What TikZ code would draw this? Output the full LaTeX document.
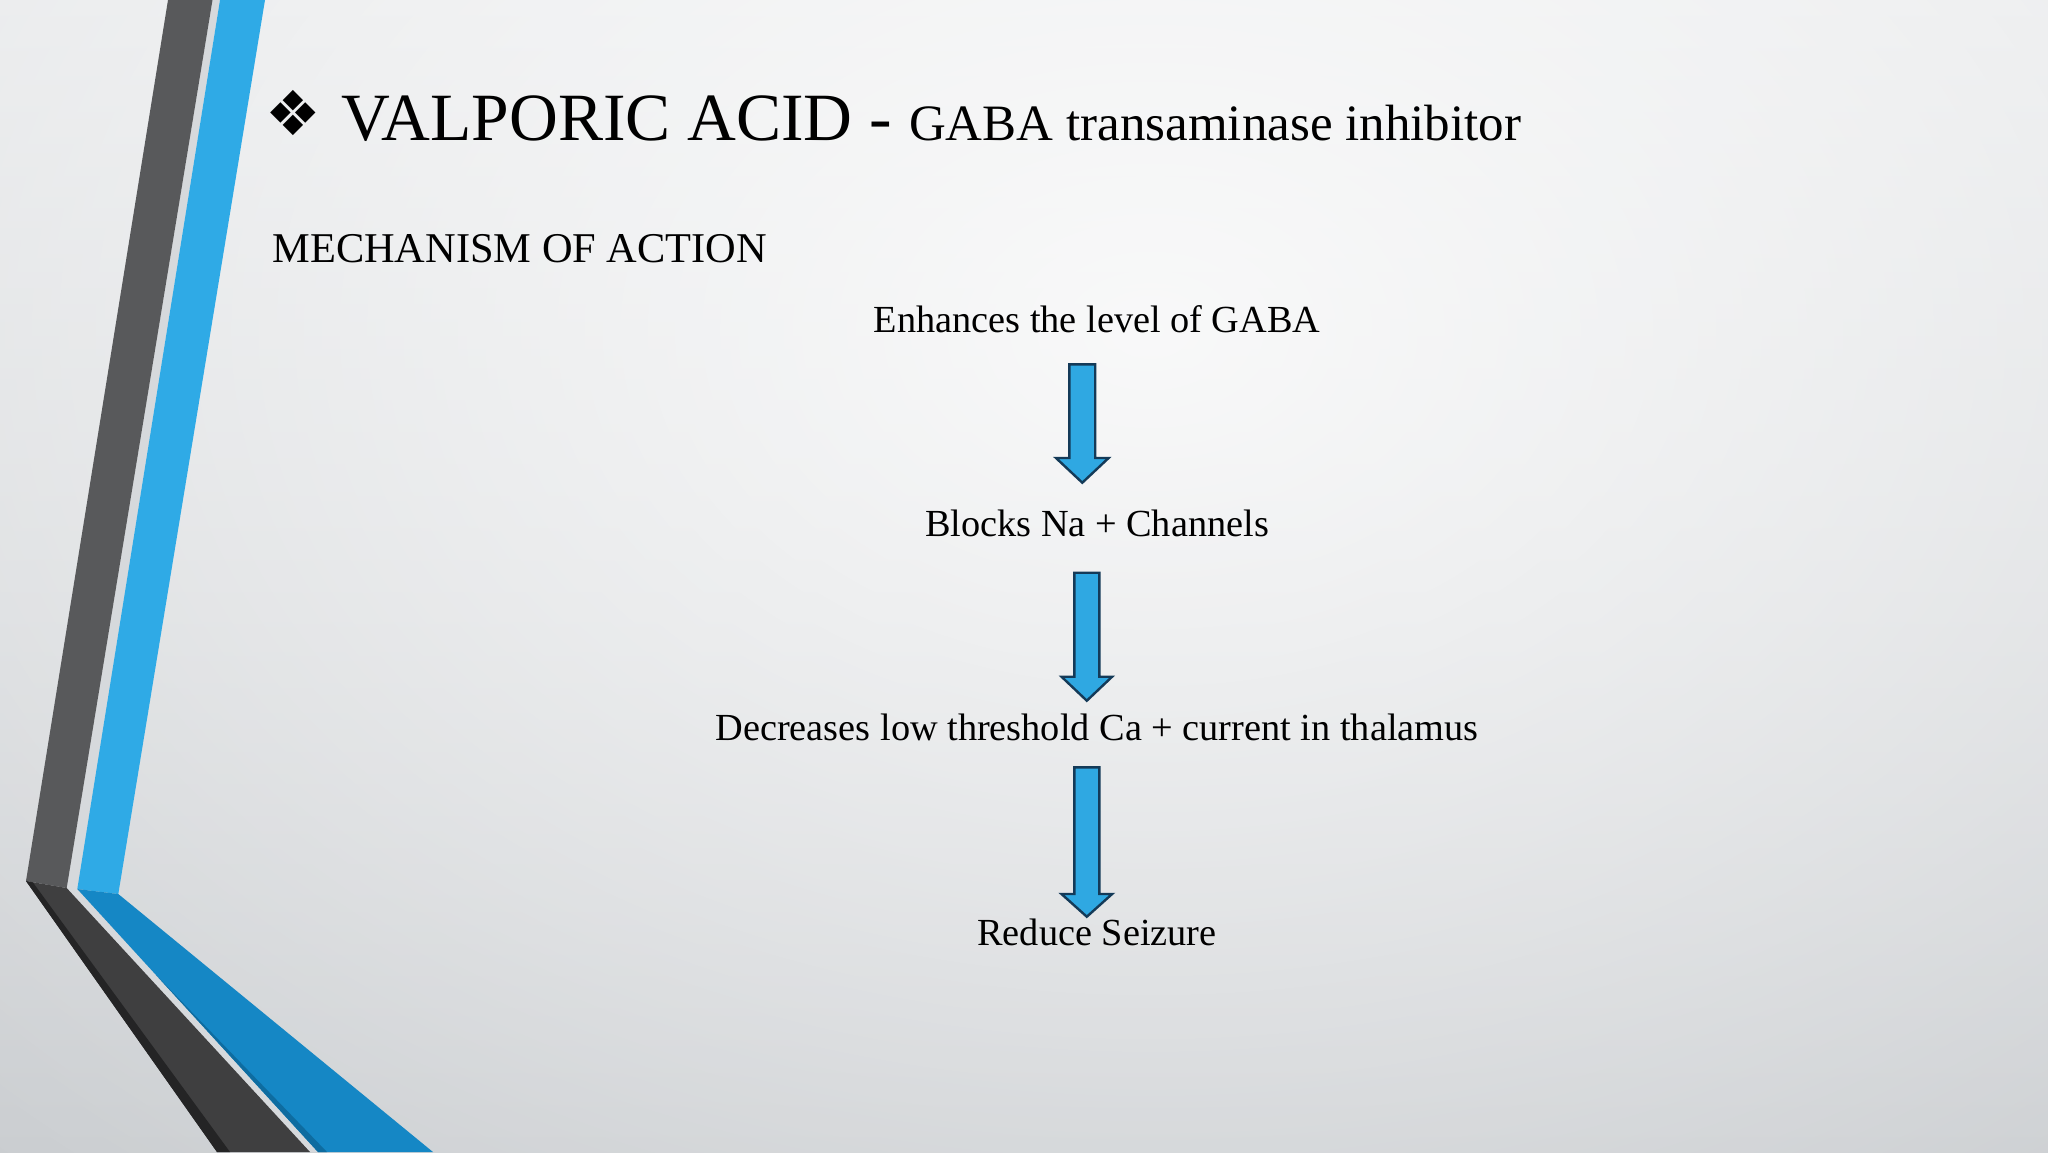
\documentclass[tikz,border=0pt]{standalone}
\usepackage{fontspec}
\setmainfont{Liberation Serif}
\newfontfamily\djv{DejaVu Sans}
\usetikzlibrary{calc,fadings}
\definecolor{bgtop}{RGB}{224,226,228}
\definecolor{bgbot}{RGB}{186,190,194}
\definecolor{darkup}{RGB}{88,89,91}
\definecolor{darklow}{RGB}{63,63,64}
\definecolor{darkshadow}{RGB}{36,36,37}
\definecolor{blueup}{RGB}{47,170,230}
\definecolor{bluelow}{RGB}{21,135,197}
\definecolor{blueshadow}{RGB}{14,108,160}
\definecolor{gapcol}{RGB}{214,217,220}
\definecolor{arrowfill}{RGB}{47,168,226}
\definecolor{arrowedge}{RGB}{20,58,88}
\tikzfading[name=glow, inner color=transparent!0, outer color=transparent!100]
\tikzset{
  txt/.style={inner sep=0pt, anchor=base, font=\fontsize{19.15}{23}\selectfont},
  blockarrow/.style={draw=arrowedge, fill=arrowfill, line width=1.2pt, line join=miter},
}
\newcommand\blkarrow[5]{% #1 top coord, #2 tip coord, #3 shaft half width, #4 head half width, #5 head length
  \draw[blockarrow] ($(#1)+(-#3,0)$) -- ($(#1)+(#3,0)$) -- ($(#2)+(#3,-#5)$) -- ($(#2)+(#4,-#5)$)
    -- (#2) -- ($(#2)+(-#4,-#5)$) -- ($(#2)+(-#3,-#5)$) -- cycle;}
\begin{document}
\begin{tikzpicture}[x=0.5pt,y=-0.5pt]
\useasboundingbox (0,0) rectangle (2048,1152);
% background
\shade[top color=bgtop, bottom color=bgbot] (0,0) rectangle (2048,1152);
\begin{scope}
\clip (0,0) rectangle (2048,1152);
\fill[white, fill opacity=0.85, path fading=glow] (1150,330) ellipse [x radius=2300, y radius=1600];
\end{scope}
% left decoration
\fill[gapcol] (212.5,0) -- (220,0) -- (77.3,889) -- (66.7,888) -- cycle;
\fill[gapcol] (66.7,888) -- (77.3,889) -- (318,1152) -- (310,1152) -- cycle;
\fill[darkup] (168,0) -- (212.5,0) -- (66.7,888) -- (26,881) -- cycle;
\fill[blueup] (220,0) -- (265,0) -- (118.3,894) -- (77.3,889) -- cycle;
\fill[darklow] (26,881) -- (66.7,888) -- (310,1152) -- (217,1152) -- cycle;
\fill[darkshadow] (26,881) -- (33,882.5) -- (230,1152) -- (217,1152) -- cycle;
\fill[bluelow] (77.3,889) -- (118.3,894) -- (433,1152) -- (318,1152) -- cycle;
\fill[blueshadow] (156,975) -- (327,1152) -- (318,1152) -- cycle;
% title
\node[inner sep=0pt, anchor=center, font=\djv\fontsize{31}{34}\selectfont] (bul) at (293.3,113.5) {❖};
\node[inner sep=0pt, anchor=base west] (title) at (341,140)
  {\fontsize{33.8}{38}\selectfont VALPORIC ACID - \fontsize{25.5}{30}\selectfont GABA transaminase inhibitor};
\node[inner sep=0pt, anchor=base west, font=\fontsize{21.2}{25}\selectfont] (moa) at (272,262.5) {MECHANISM OF ACTION};
% flow
\node[txt] (n1) at (1097,332) {Enhances the level of GABA};
\node[txt] (n2) at (1097,536) {Blocks Na + Channels};
\node[txt] (n3) at (1097,740.5) {Decreases low threshold Ca + current in thalamus};
\node[txt] (n4) at (1097,945) {Reduce Seizure};
\coordinate (a1top) at (1082.3,364.3);
\coordinate (a1tip) at (1082.3,482.7);
\coordinate (a2top) at (1086.8,572.7);
\coordinate (a2tip) at (1086.8,700.7);
\coordinate (a3top) at (1086.8,767.3);
\coordinate (a3tip) at (1086.8,916.7);
\blkarrow{a1top}{a1tip}{12.9}{26.3}{24.7}
\blkarrow{a2top}{a2tip}{12.5}{25.3}{24}
\blkarrow{a3top}{a3tip}{12.5}{25.3}{22.7}
\end{tikzpicture}
\end{document}
